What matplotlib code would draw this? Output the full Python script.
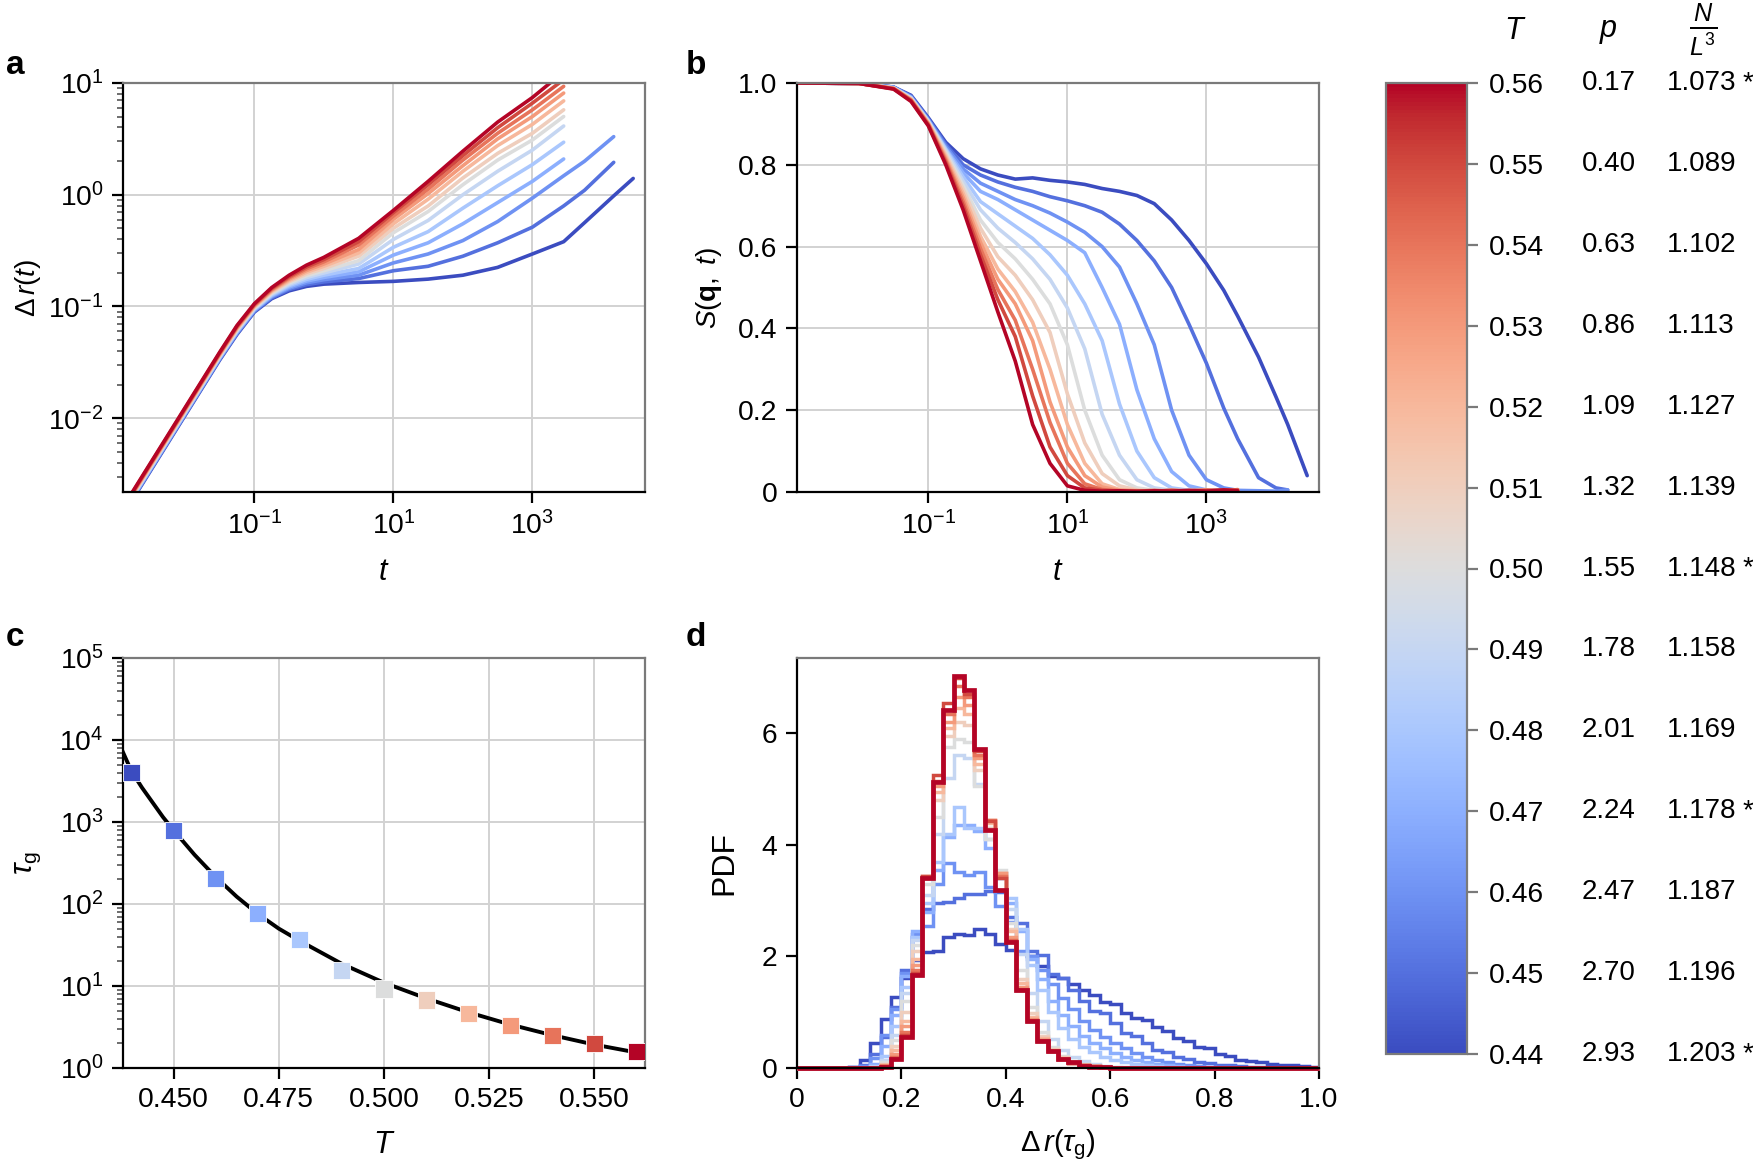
import numpy as np
import matplotlib
matplotlib.use("Agg")
import matplotlib.pyplot as plt
from matplotlib import colors as mcolors
from matplotlib import transforms
from matplotlib.ticker import LogLocator, NullLocator, FixedLocator, FixedFormatter, NullFormatter

# ---------------------------------------------------------------- data
T_vals = [0.44, 0.45, 0.46, 0.47, 0.48, 0.49, 0.50, 0.51, 0.52, 0.53, 0.54, 0.55, 0.56]
T_labels = ["0.44", "0.45", "0.46", "0.47", "0.48", "0.49", "0.50",
            "0.51", "0.52", "0.53", "0.54", "0.55", "0.56"]
p_labels = ["2.93", "2.70", "2.47", "2.24", "2.01", "1.78", "1.55",
            "1.32", "1.09", "0.86", "0.63", "0.40", "0.17"]
dens_labels = ["1.203", "1.196", "1.187", "1.178", "1.169", "1.158", "1.148",
               "1.139", "1.127", "1.113", "1.102", "1.089", "1.073"]
dens_star = [True, False, False, True, False, False, True,
             False, False, False, False, False, True]

# panel a : log10 t grid and log10 Delta r(t) per temperature (0.44 ... 0.56)
msd_logt = [-2.9, -1.5, -1.25, -1.0, -0.75, -0.5, -0.25, 0.0, 0.5, 1.0,
            1.5, 2.0, 2.5, 3.0, 3.45, 3.75, 4.17, 4.45]
msd_logr = [
    [-2.875, -1.48, -1.25, -1.05, -0.93, -0.86, -0.82, -0.80, -0.785, -0.775, -0.755, -0.72, -0.65, -0.53, -0.42, -0.25, -0.01, 0.146],
    [-2.869, -1.474, -1.243, -1.044, -0.922, -0.848, -0.804, -0.78, -0.75, -0.68, -0.64, -0.55, -0.43, -0.29, -0.10, 0.04, 0.29],
    [-2.863, -1.468, -1.237, -1.038, -0.913, -0.837, -0.788, -0.76, -0.72, -0.61, -0.53, -0.41, -0.24, -0.03, 0.17, 0.30, 0.52],
    [-2.857, -1.462, -1.23, -1.031, -0.905, -0.825, -0.772, -0.74, -0.69, -0.54, -0.43, -0.26, -0.07, 0.12, 0.32],
    [-2.852, -1.457, -1.223, -1.025, -0.897, -0.813, -0.757, -0.72, -0.66, -0.47, -0.33, -0.12, 0.08, 0.27, 0.47],
    [-2.846, -1.451, -1.217, -1.019, -0.888, -0.802, -0.741, -0.70, -0.62, -0.40, -0.23, 0.00, 0.21, 0.40, 0.615],
    [-2.84, -1.445, -1.21, -1.013, -0.88, -0.79, -0.725, -0.68, -0.59, -0.34, -0.15, 0.09, 0.31, 0.49, 0.70],
    [-2.834, -1.439, -1.203, -1.006, -0.872, -0.778, -0.709, -0.66, -0.55, -0.30, -0.10, 0.15, 0.37, 0.55, 0.76],
    [-2.828, -1.433, -1.197, -1.0, -0.863, -0.767, -0.693, -0.64, -0.52, -0.26, -0.04, 0.21, 0.44, 0.63, 0.84],
    [-2.822, -1.428, -1.19, -0.994, -0.855, -0.755, -0.678, -0.62, -0.49, -0.22, 0.01, 0.26, 0.50, 0.70, 0.91],
    [-2.817, -1.422, -1.183, -0.988, -0.847, -0.743, -0.662, -0.60, -0.45, -0.19, 0.05, 0.31, 0.55, 0.76, 0.97],
    [-2.81, -1.416, -1.177, -0.981, -0.838, -0.732, -0.646, -0.58, -0.42, -0.16, 0.09, 0.35, 0.60, 0.82, 1.03],
    [-2.805, -1.41, -1.17, -0.975, -0.83, -0.72, -0.63, -0.56, -0.39, -0.14, 0.12, 0.39, 0.65, 0.87, 1.10],
]

# panel b : log10 t grid and S(q,t) per temperature
isf_logt = [-2.9, -2.0, -1.5, -1.25, -1.0, -0.75, -0.5, -0.25, 0.0, 0.25, 0.5, 0.75,
            1.0, 1.25, 1.5, 1.75, 2.0, 2.25, 2.5, 2.75, 3.0, 3.25, 3.45, 3.75, 4.0, 4.17, 4.45]
isf_vals = [
    [1.0, 0.999, 0.99, 0.97, 0.915, 0.855, 0.815, 0.79, 0.775, 0.765, 0.768, 0.762, 0.758, 0.752, 0.742, 0.735, 0.725, 0.705, 0.665, 0.615, 0.558, 0.493, 0.43, 0.33, 0.233, 0.165, 0.04],
    [1.0, 0.999, 0.99, 0.968, 0.912, 0.85, 0.80, 0.775, 0.758, 0.745, 0.735, 0.722, 0.712, 0.70, 0.684, 0.655, 0.615, 0.565, 0.50, 0.41, 0.315, 0.205, 0.13, 0.035, 0.01, 0.005],
    [1.0, 0.999, 0.99, 0.966, 0.91, 0.845, 0.79, 0.755, 0.735, 0.715, 0.70, 0.682, 0.66, 0.635, 0.60, 0.55, 0.46, 0.36, 0.20, 0.09, 0.03, 0.01, 0.004, 0.003, 0.002, 0.005],
    [1.0, 0.999, 0.989, 0.965, 0.908, 0.84, 0.78, 0.735, 0.715, 0.69, 0.665, 0.64, 0.615, 0.585, 0.50, 0.41, 0.25, 0.13, 0.05, 0.015, 0.005, 0.003, 0.004],
    [1.0, 0.999, 0.988, 0.964, 0.907, 0.838, 0.77, 0.71, 0.68, 0.65, 0.62, 0.58, 0.53, 0.46, 0.37, 0.215, 0.10, 0.035, 0.01, 0.004, 0.003, 0.002, 0.004],
    [1.0, 0.999, 0.988, 0.963, 0.906, 0.835, 0.76, 0.69, 0.645, 0.61, 0.57, 0.52, 0.45, 0.35, 0.19, 0.09, 0.03, 0.01, 0.004, 0.003, 0.002, 0.004, 0.003],
    [1.0, 0.999, 0.988, 0.962, 0.905, 0.83, 0.75, 0.665, 0.61, 0.57, 0.52, 0.46, 0.36, 0.20, 0.09, 0.03, 0.01, 0.004, 0.003, 0.002, 0.004, 0.003, 0.002],
    [1.0, 0.999, 0.987, 0.961, 0.903, 0.825, 0.74, 0.645, 0.575, 0.53, 0.47, 0.39, 0.24, 0.12, 0.045, 0.015, 0.005, 0.003, 0.002, 0.004, 0.003, 0.002, 0.005],
    [1.0, 0.999, 0.987, 0.96, 0.902, 0.82, 0.73, 0.625, 0.545, 0.49, 0.415, 0.30, 0.165, 0.07, 0.02, 0.006, 0.003, 0.002, 0.004, 0.002, 0.005, 0.003, 0.004],
    [1.0, 0.999, 0.987, 0.959, 0.90, 0.815, 0.72, 0.61, 0.52, 0.46, 0.37, 0.22, 0.11, 0.04, 0.012, 0.004, 0.003, 0.002, 0.004, 0.003, 0.002, 0.004, 0.003],
    [1.0, 0.999, 0.986, 0.958, 0.899, 0.81, 0.71, 0.595, 0.495, 0.42, 0.30, 0.17, 0.07, 0.02, 0.006, 0.003, 0.002, 0.004, 0.002, 0.003, 0.005, 0.002, 0.006],
    [1.0, 0.999, 0.986, 0.957, 0.897, 0.805, 0.70, 0.58, 0.47, 0.38, 0.235, 0.11, 0.04, 0.01, 0.004, 0.002, 0.003, 0.002, 0.004, 0.002, 0.003, 0.005, 0.004],
    [1.0, 0.999, 0.985, 0.955, 0.895, 0.80, 0.69, 0.565, 0.44, 0.32, 0.165, 0.07, 0.015, 0.004, 0.002, 0.003, 0.001, 0.003, 0.002, 0.004, 0.002, 0.005, 0.003],
]

# panel c : relaxation time per temperature and the fitted curve
tau_g = [4050, 784, 205, 76, 36.6, 15.4, 9.2, 6.75, 4.63, 3.27, 2.52, 1.97, 1.58]
fit_T = [0.438, 0.44, 0.4425, 0.445, 0.4475, 0.45, 0.455, 0.46, 0.465, 0.47, 0.475,
         0.48, 0.49, 0.50, 0.51, 0.52, 0.53, 0.54, 0.55, 0.562]
fit_logtau = [3.85, 3.62, 3.42, 3.24, 3.06, 2.90, 2.60, 2.33, 2.09, 1.88, 1.70,
              1.55, 1.27, 1.04, 0.85, 0.68, 0.53, 0.40, 0.285, 0.17]

# panel d : PDF of Delta r(tau_g), bins of width 0.02 starting at 0.10
hist_bin_width = 0.02
hist_first_edge = 0.10
hist_vals = [
    [0.02, 0.14, 0.44, 0.88, 1.27, 1.62, 1.93, 2.08, 2.10, 2.35, 2.41, 2.38, 2.50, 2.41, 2.23, 2.11, 2.06, 2.0, 1.82, 1.65, 1.62, 1.51, 1.40, 1.30, 1.18, 1.14, 0.98, 0.89, 0.86, 0.73, 0.67, 0.54, 0.49, 0.38, 0.35, 0.25, 0.22, 0.15, 0.13, 0.10, 0.08, 0.06, 0.045, 0.03, 0.025],
    [0.01, 0.05, 0.25, 0.55, 1.10, 1.75, 2.35, 2.85, 2.95, 2.97, 3.04, 3.12, 3.12, 3.18, 3.15, 2.70, 2.60, 2.10, 2.02, 1.68, 1.62, 1.40, 1.20, 1.02, 0.98, 0.80, 0.62, 0.58, 0.45, 0.32, 0.28, 0.20, 0.17, 0.11, 0.09, 0.06, 0.045, 0.03, 0.02, 0.015, 0.01, 0.008, 0.005, 0.004, 0.003],
    [0.0, 0.03, 0.18, 0.60, 1.05, 1.70, 2.40, 2.55, 3.30, 3.68, 3.52, 3.46, 3.52, 3.25, 2.90, 2.62, 2.10, 2.0, 1.75, 1.5, 1.25, 1.05, 0.85, 0.68, 0.55, 0.45, 0.35, 0.27, 0.20, 0.15, 0.10, 0.07, 0.05, 0.035, 0.025, 0.015, 0.01, 0.008, 0.005, 0.003],
    [0.0, 0.0, 0.08, 0.40, 0.95, 1.65, 2.45, 2.80, 3.55, 4.15, 4.35, 4.35, 4.25, 3.95, 3.40, 2.95, 2.45, 1.95, 1.60, 1.20, 0.95, 0.75, 0.58, 0.45, 0.35, 0.27, 0.20, 0.14, 0.10, 0.07, 0.05, 0.035, 0.025, 0.015, 0.01],
    [0.0, 0.0, 0.03, 0.22, 0.75, 1.45, 2.35, 2.95, 3.70, 4.20, 4.68, 4.30, 4.30, 4.10, 3.50, 3.05, 2.50, 1.85, 1.40, 1.00, 0.72, 0.52, 0.38, 0.28, 0.20, 0.15, 0.10, 0.07, 0.05, 0.03, 0.02, 0.01],
    [0.0, 0.0, 0.02, 0.15, 0.60, 1.35, 2.30, 3.10, 4.20, 5.20, 5.62, 5.56, 5.10, 4.30, 3.40, 2.85, 2.05, 1.35, 0.85, 0.52, 0.32, 0.20, 0.12, 0.07, 0.04, 0.025, 0.015, 0.01],
    [0.0, 0.0, 0.01, 0.10, 0.50, 1.20, 2.20, 3.30, 4.50, 5.75, 5.90, 5.85, 5.05, 4.10, 3.55, 2.60, 1.75, 1.10, 0.65, 0.38, 0.22, 0.13, 0.07, 0.04, 0.02, 0.012],
    [0.0, 0.0, 0.0, 0.08, 0.40, 1.00, 2.10, 3.40, 4.80, 5.95, 6.20, 6.15, 5.35, 4.30, 3.50, 2.50, 1.60, 0.98, 0.58, 0.34, 0.20, 0.11, 0.06, 0.03, 0.02],
    [0.0, 0.0, 0.0, 0.06, 0.33, 0.85, 1.95, 3.40, 4.95, 6.10, 6.45, 6.35, 5.45, 4.40, 3.50, 2.45, 1.52, 0.92, 0.54, 0.32, 0.18, 0.10, 0.05, 0.03, 0.02],
    [0.0, 0.0, 0.0, 0.05, 0.25, 0.75, 1.85, 3.42, 5.05, 6.20, 6.65, 6.50, 5.55, 4.45, 3.50, 2.35, 1.45, 0.88, 0.50, 0.30, 0.17, 0.09, 0.05, 0.03, 0.02],
    [0.0, 0.0, 0.0, 0.04, 0.20, 0.65, 1.75, 3.45, 5.15, 6.35, 6.85, 6.65, 5.62, 4.45, 3.45, 2.30, 1.42, 0.86, 0.50, 0.30, 0.16, 0.09, 0.05, 0.03, 0.02],
    [0.0, 0.0, 0.0, 0.03, 0.18, 0.60, 1.70, 3.45, 5.25, 6.55, 7.00, 6.70, 5.68, 4.42, 3.40, 2.28, 1.40, 0.85, 0.49, 0.30, 0.16, 0.09, 0.05, 0.03, 0.02],
    [0.0, 0.0, 0.0, 0.02, 0.16, 0.55, 1.66, 3.40, 5.13, 6.42, 7.02, 6.78, 5.71, 4.26, 3.19, 2.25, 1.39, 0.85, 0.49, 0.31, 0.16, 0.10, 0.04, 0.02, 0.01],
]

# ---------------------------------------------------------------- style
plt.rcParams['font.family'] = ['Liberation Sans', 'DejaVu Sans']
plt.rcParams['mathtext.fontset'] = 'custom'
plt.rcParams['mathtext.rm'] = 'Liberation Sans'
plt.rcParams['mathtext.it'] = 'Liberation Sans:italic'
plt.rcParams['mathtext.bf'] = 'Liberation Sans:bold'
plt.rcParams['font.size'] = 10
plt.rcParams['axes.linewidth'] = 0.8

DPI = 200
W, H = 1753, 1164
fig = plt.figure(figsize=(W / DPI, H / DPI), dpi=DPI)

cmap = plt.get_cmap('coolwarm')
norm = mcolors.Normalize(vmin=min(T_vals), vmax=max(T_vals))
cols = [cmap(norm(T)) for T in T_vals]

GRID = '#d2d2d2'
SPINE2 = '#7a7a7a'
LW = 1.3
TICKFS = 10.2
TABFS = 10


def frame(ax):
    ax.spines['top'].set_color(SPINE2)
    ax.spines['right'].set_color(SPINE2)
    ax.tick_params(which='both', direction='out', labelsize=TICKFS, pad=3)
    ax.tick_params(which='major', length=4, width=0.8)
    ax.tick_params(which='minor', length=2.2, width=0.6, color='#555555')
    ax.set_axisbelow(True)


def px_axes(x0, y0, x1, y1):
    return fig.add_axes([x0 / W, 1 - y1 / H, (x1 - x0) / W, (y1 - y0) / H])


axA = px_axes(123, 83, 645, 492)
axB = px_axes(797, 83, 1319, 492)
axC = px_axes(123, 658, 645, 1068)
axD = px_axes(797, 658, 1319, 1068)
cax = px_axes(1386, 83, 1467, 1054)

# ---------------------------------------------------------------- panel a
for i in range(len(T_vals)):
    ys = msd_logr[i]
    xs = msd_logt[:len(ys)]
    axA.plot([10 ** v for v in xs], [10 ** v for v in ys], color=cols[i], lw=LW,
             solid_capstyle='round', solid_joinstyle='round')
axA.set_xscale('log')
axA.set_yscale('log')
axA.set_xlim(10 ** -2.89, 10 ** 4.62)
axA.set_ylim(10 ** -2.66, 10)
axA.xaxis.set_major_locator(FixedLocator([1e-1, 1e1, 1e3]))
axA.xaxis.set_minor_locator(NullLocator())
axA.yaxis.set_major_locator(FixedLocator([1e-2, 1e-1, 1e0, 1e1]))
axA.yaxis.set_minor_locator(LogLocator(base=10, subs=np.arange(2, 10)))
axA.yaxis.set_minor_formatter(NullFormatter())
axA.grid(True, which='major', color=GRID, lw=0.7)
frame(axA)
axA.set_xlabel(r'$t$', fontsize=11, labelpad=6)
axA.set_ylabel(r'$\Delta\,r(t)$', fontsize=10, labelpad=2)

# ---------------------------------------------------------------- panel b
for i in range(len(T_vals)):
    ys = isf_vals[i]
    xs = isf_logt[:len(ys)]
    axB.plot([10 ** v for v in xs], ys, color=cols[i], lw=LW,
             solid_capstyle='round', solid_joinstyle='round')
axB.set_xscale('log')
axB.set_xlim(10 ** -2.89, 10 ** 4.62)
axB.set_ylim(0, 1.0)
axB.xaxis.set_major_locator(FixedLocator([1e-1, 1e1, 1e3]))
axB.xaxis.set_minor_locator(NullLocator())
axB.yaxis.set_major_locator(FixedLocator([0, 0.2, 0.4, 0.6, 0.8, 1.0]))
axB.yaxis.set_major_formatter(FixedFormatter(["0", "0.2", "0.4", "0.6", "0.8", "1.0"]))
axB.grid(True, which='major', color=GRID, lw=0.7)
frame(axB)
axB.set_xlabel(r'$t$', fontsize=11, labelpad=6)
axB.set_ylabel(r'$S(\mathbf{q},\ t)$', fontsize=10, labelpad=5)

# ---------------------------------------------------------------- panel c
axC.plot(fit_T, [10 ** v for v in fit_logtau], color='black', lw=1.4, zorder=2)
axC.scatter(T_vals, tau_g, c=cols, marker='s', s=38, zorder=3,
            edgecolors='white', linewidths=0.3)
axC.set_yscale('log')
axC.set_xlim(0.438, 0.562)
axC.set_ylim(1, 1e5)
axC.xaxis.set_major_locator(FixedLocator([0.450, 0.475, 0.500, 0.525, 0.550]))
axC.xaxis.set_major_formatter(FixedFormatter(["0.450", "0.475", "0.500", "0.525", "0.550"]))
axC.yaxis.set_major_locator(FixedLocator([1e0, 1e1, 1e2, 1e3, 1e4, 1e5]))
axC.yaxis.set_minor_locator(LogLocator(base=10, subs=np.arange(2, 10)))
axC.yaxis.set_minor_formatter(NullFormatter())
axC.grid(True, which='major', color=GRID, lw=0.7)
frame(axC)
axC.set_xlabel(r'$T$', fontsize=11, labelpad=6)
axC.set_ylabel(r'$\tau_{\mathrm{g}}$', fontsize=11, labelpad=6)

# ---------------------------------------------------------------- panel d
n_bins = int(round(1.0 / hist_bin_width))
edges = [k * hist_bin_width for k in range(n_bins + 1)]
first = int(round(hist_first_edge / hist_bin_width))
for i in range(len(T_vals)):
    vals = [0.0] * first + list(hist_vals[i])
    vals = vals + [0.0] * (n_bins - len(vals))
    lw = 1.7 if i == len(T_vals) - 1 else 1.25
    axD.stairs(vals, edges, color=cols[i], lw=lw, baseline=None, clip_on=False)
axD.set_xlim(0, 1.0)
axD.set_ylim(0, 7.35)
axD.xaxis.set_major_locator(FixedLocator([0, 0.2, 0.4, 0.6, 0.8, 1.0]))
axD.xaxis.set_major_formatter(FixedFormatter(["0", "0.2", "0.4", "0.6", "0.8", "1.0"]))
axD.yaxis.set_major_locator(FixedLocator([0, 2, 4, 6]))
frame(axD)
axD.set_xlabel(r'$\Delta\,r(\tau_{\mathrm{g}})$', fontsize=10.5, labelpad=5)
axD.set_ylabel('PDF', fontsize=11.5, labelpad=8)

# ---------------------------------------------------------------- colour bar + table
sm = plt.cm.ScalarMappable(cmap=cmap, norm=norm)
cb = fig.colorbar(sm, cax=cax, ticks=T_vals)
cb.ax.set_yticklabels(T_labels)
cb.outline.set_edgecolor(SPINE2)
cb.outline.set_linewidth(0.8)
cax.tick_params(length=4, width=0.8, color=SPINE2, labelsize=TICKFS, pad=4)

tr = transforms.blended_transform_factory(fig.transFigure, cax.transData)
for i, T in enumerate(T_vals):
    fig.text(1582 / W, T, p_labels[i], transform=tr, ha='left', va='center', fontsize=TABFS)
    fig.text(1667 / W, T, dens_labels[i], transform=tr, ha='left', va='center', fontsize=TABFS)
    if dens_star[i]:
        fig.text(1748 / W, T, '*', transform=tr, ha='center', va='center', fontsize=TABFS)

fig.text(1515 / W, 1 - 31 / H, r'$T$', ha='center', va='center', fontsize=11)
fig.text(1608 / W, 1 - 31 / H, r'$p$', ha='center', va='center', fontsize=11)
fig.text(1703 / W, 1 - 30 / H, r'$\frac{N}{L^3}$', ha='center', va='center', fontsize=13)

# ---------------------------------------------------------------- panel letters
for lab, x, y in [('a', 6, 74), ('b', 686, 74), ('c', 6, 646), ('d', 686, 646)]:
    fig.text(x / W, 1 - y / H, lab, fontsize=12, fontweight='bold', ha='left', va='baseline')

fig.savefig('out.png', dpi=DPI)
